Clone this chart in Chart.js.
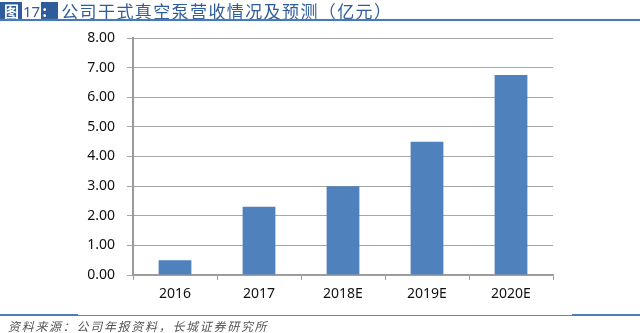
<!DOCTYPE html>
<html>
<head>
<meta charset="utf-8">
<script src="https://cdn.jsdelivr.net/npm/chart.js@4/dist/chart.umd.min.js"></script>
<style>
  body { margin: 0; width: 640px; height: 333px; background: #fff; position: relative; overflow: hidden; font-family: "Noto Sans CJK SC", "Noto Sans", sans-serif; }
  #wrap { position: absolute; left: 0; top: 0; width: 640px; height: 333px; }
  .title { position: absolute; left: 0; top: 2px; height: 18px; display: flex; align-items: center; }
  .tag { background: #2f5d9c; color: #fff; font-size: 15px; font-weight: bold; height: 18px; line-height: 18px; padding: 0 3px 0 4px; }
  .num { background: #fff; color: #2f5d9c; font-size: 15px; height: 18px; line-height: 18px; font-family: "Noto Sans", sans-serif; padding: 0 1px; }
  .colon { background: #2f5d9c; color: #fff; font-size: 15px; height: 18px; line-height: 18px; width: 16px; padding-left: 1px; font-weight: bold; }
  .txt { color: #2f5d9c; font-size: 17px; letter-spacing: 1.4px; margin-left: 3px; line-height: 18px; }
  .topline { position: absolute; left: 0; top: 19px; width: 640px; height: 2px; background: #4a79b5; box-shadow: 0 0 1px #9db8da; }
  .botline { position: absolute; left: 0; top: 315px; width: 640px; height: 1px; background: #5b86bd; }
  .botl { position: absolute; left: 0; top: 314px; width: 78px; height: 2px; background: #4f7db8; }
  .botr { position: absolute; left: 572px; top: 314px; width: 68px; height: 2px; background: #4f7db8; }
  .source { position: absolute; left: 8px; top: 317px; font-size: 12px; color: #555; font-style: italic; letter-spacing: 1.7px; }
</style>
</head>
<body>
<div id="wrap"><canvas id="revenuectr" width="640" height="333"></canvas></div>
<div class="title"><span class="tag">图</span><span class="num">17</span><span class="colon">:</span><span class="txt">公司干式真空泵营收情况及预测（亿元）</span></div>
<div class="topline"></div>
<div class="botline"></div>
<div class="botl"></div>
<div class="botr"></div>
<div class="source">资料来源：公司年报资料，长城证券研究所</div>
<script>
const years = ['2016', '2017', '2018E', '2019E', '2020E'];
const revenue = [0.50, 2.30, 3.00, 4.50, 6.75]; // 亿元
const yTicks = [0, 1, 2, 3, 4, 5, 6, 7, 8];

const ctxRevenue = document.getElementById('revenuectr').getContext('2d');
const revenueChart = new Chart(ctxRevenue, {
  type: 'bar',
  data: {
    labels: years,
    datasets: [{
      data: revenue,
      backgroundColor: '#4f81bd',
      borderWidth: 0,
      barPercentage: 0.39,
      categoryPercentage: 1
    }]
  },
  options: {
    responsive: false,
    animation: false,
    layout: { padding: { left: 0, right: 87, top: 38, bottom: 0 } },
    plugins: { legend: { display: false }, tooltip: { enabled: false } },
    scales: {
      x: {
        grid: { drawOnChartArea: false, drawTicks: true, tickLength: 5, color: '#9a9a9a', offset: true },
        border: { color: '#9a9a9a', width: 1.5 },
        ticks: { color: '#111', font: { family: 'Noto Sans', size: 14 }, padding: 6 },
        afterFit: (scale) => { scale.height = 58; }
      },
      y: {
        min: yTicks[0],
        max: yTicks[yTicks.length - 1],
        afterBuildTicks: (scale) => { scale.ticks = yTicks.map(v => ({ value: v })); },
        grid: { color: '#a6a6a6', lineWidth: 1, tickLength: 6 },
        border: { color: '#9a9a9a', width: 2 },
        ticks: { color: '#111', font: { family: 'Noto Sans', size: 14 }, padding: 12, callback: (v) => Number(v).toFixed(2) },
        afterFit: (scale) => { scale.width = 133; }
      }
    }
  }
});
</script>
</body>
</html>
